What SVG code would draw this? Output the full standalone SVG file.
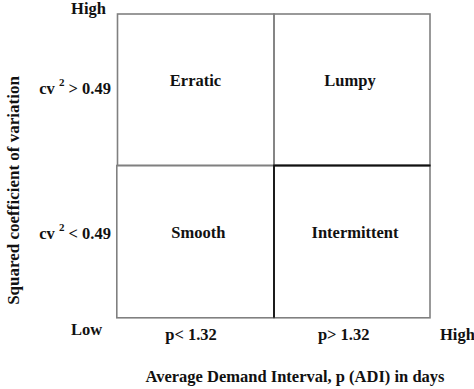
<svg xmlns="http://www.w3.org/2000/svg" width="474" height="389" viewBox="0 0 474 389">
<style>
text{font-family:"Liberation Serif","Times New Roman",serif;font-weight:bold;font-size:16.5px;fill:#111}
.c{text-anchor:middle}
.e{text-anchor:end}
.g{fill:none;stroke:#808080;stroke-width:1.6}
.k{fill:none;stroke:#111;stroke-width:1.8}
</style>
<rect width="474" height="389" fill="#fff"/>
<g id="erratic">
<rect class="g" x="117.5" y="14" width="156.5" height="151.5"/>
<text class="c" x="195.5" y="86">Erratic</text>
</g>
<g id="lumpy">
<rect class="g" x="274" y="14" width="156" height="151.5"/>
<text class="c" x="350" y="86">Lumpy</text>
</g>
<g id="smooth">
<rect class="g" x="116.8" y="165.5" width="157.2" height="152.3"/>
<text class="c" x="198.3" y="238">Smooth</text>
</g>
<g id="intermittent">
<rect class="g" x="274" y="165.5" width="156" height="152.3"/>
<path class="k" d="M274,317.8V165.5H430.5"/>
<text class="c" x="355" y="238">Intermittent</text>
</g>
<g id="labels">
<text class="c" x="88.5" y="13.5">High</text>
<text class="e" x="111" y="93.5">cv <tspan font-size="11" dy="-8">2</tspan><tspan dy="8"> &gt; 0.49</tspan></text>
<text class="e" x="111" y="238.5">cv <tspan font-size="11" dy="-8">2</tspan><tspan dy="8"> &lt; 0.49</tspan></text>
<text class="c" x="86.7" y="335">Low</text>
<text class="c" x="191" y="340">p&lt; 1.32</text>
<text class="c" x="343.7" y="340">p&gt; 1.32</text>
<text x="440" y="340">High</text>
<text class="c" x="295" y="382">Average Demand Interval, p (ADI) in days</text>
<text class="c" transform="translate(18.5,190.5) rotate(-90)" style="font-size:17px">Squared coefficient of variation</text>
</g>
</svg>
